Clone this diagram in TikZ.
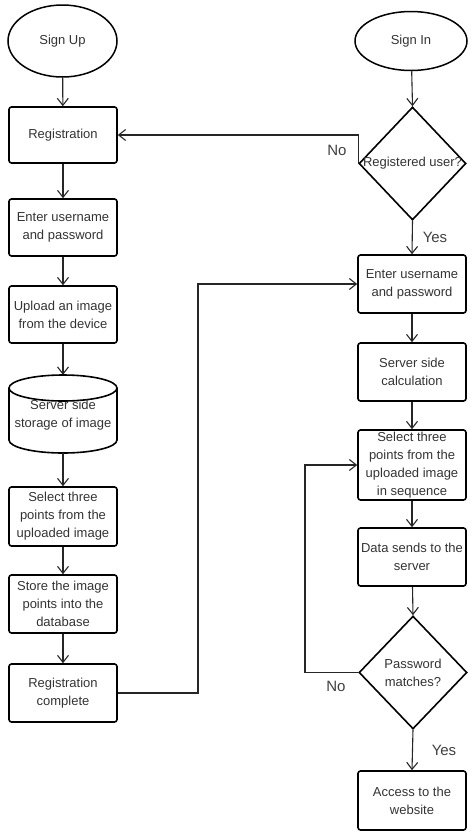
\documentclass[tikz,border=0pt]{standalone}
\usepackage{fontspec}
\setmainfont{Liberation Sans}
\usetikzlibrary{shapes.geometric,arrows.meta}
\definecolor{txtc}{HTML}{333333}
\begin{document}
\begin{tikzpicture}[x=1pt,y=-1pt,
  every node/.style={font=\fontsize{13}{18}\selectfont, text=txtc, align=center, inner sep=0pt},
  stepbox/.style={draw=black, line width=1.6pt, rounded corners=2.5pt, minimum width=108pt, minimum height=57pt},
  startend/.style={draw=black, line width=1.5pt, ellipse, minimum width=109pt, minimum height=72pt},
  decide/.style={draw=black, line width=1.6pt, diamond, minimum width=107pt, minimum height=113pt},
  lbl/.style={font=\fontsize{15}{18}\selectfont, text=black!75},
  conn/.style={draw=black!85, line width=1.1pt, -{Straight Barb[length=7pt,width=11pt,line width=1.1pt]}},
  plain/.style={draw=black!85, line width=1.1pt}
]
\useasboundingbox (0,0) rectangle (474,836);
% left column
\node[startend] (signup) at (62.5,41) {Sign Up};
\node[stepbox, minimum height=56pt] (reg) at (63,135) {Registration};
\node[stepbox] (enter1) at (63,227.5) {Enter username\\and password};
\node[stepbox] (upload) at (63,314.5) {Upload an image\\from the device};
\node[minimum width=108pt, minimum height=78pt] (storage) at (63,414) {};
\draw[black, line width=1.6pt] (63,388) ellipse [x radius=54pt, y radius=13pt];
\draw[black, line width=1.6pt] (9,388) -- (9,440) arc[start angle=180, end angle=360, x radius=54pt, y radius=13pt] -- (117,388);
\node (storagetxt) at (63,415) {Server side\\storage of image};
\node[stepbox, minimum height=59pt] (select1) at (63,516.5) {Select three\\points from the\\uploaded image};
\node[stepbox, minimum height=58pt] (storeimg) at (63,604) {Store the image\\points into the\\database};
\node[stepbox, minimum height=58pt] (regcomp) at (63,693) {Registration\\complete};
% right column
\node[startend, minimum width=112pt, minimum height=59pt] (signin) at (411,41) {Sign In};
\node[decide] (regq) at (412.5,163.5) {};
\node (regqtxt) at (412.5,163.5) {Registered user?};
\node[stepbox, minimum height=58pt] (enter2) at (412,284) {Enter username\\and password};
\node[stepbox, minimum height=58pt] (calc) at (412,372) {Server side\\calculation};
\node[stepbox, minimum height=70pt] (select2) at (412,465) {Select three\\points from the\\uploaded image\\in sequence};
\node[stepbox, minimum height=58pt] (data) at (412,557) {Data sends to the\\server};
\node[decide, minimum width=108pt] (pwq) at (413,672.5) {};
\node (pwqtxt) at (413,672.5) {Password\\matches?};
\node[stepbox, minimum height=59pt] (access) at (412,800.5) {Access to the\\website};
% connectors left
\draw[conn] (signup) -- (reg);
\draw[conn] (reg) -- (enter1);
\draw[conn] (enter1) -- (upload);
\draw[conn] (upload) -- (storage.north);
\draw[conn] (storage.south) -- (select1);
\draw[conn] (select1) -- (storeimg);
\draw[conn] (storeimg) -- (regcomp);
\coordinate (j1) at (198,693);
\draw[conn] (regcomp.east) -- (j1) |- (enter2.west);
% connectors right
\draw[conn] (signin) -- (regq.north);
\draw[conn] (regq.west) |- (reg.east);
\node[lbl] (no1) at (337,150) {No};
\draw[conn] (regq.south) -- (enter2.north);
\node[lbl] (yes1) at (435,237) {Yes};
\draw[conn] (enter2) -- (calc);
\draw[conn] (calc) -- (select2);
\draw[conn] (select2) -- (data);
\draw[conn] (data) -- (pwq.north);
\coordinate (j2) at (305,672.5);
\draw[conn] (pwq.west) -- (j2) |- (select2.west);
\node[lbl] (no2) at (336,686) {No};
\draw[conn] (pwq.south) -- (access.north);
\node[lbl] (yes2) at (444,750) {Yes};
\end{tikzpicture}
\end{document}
